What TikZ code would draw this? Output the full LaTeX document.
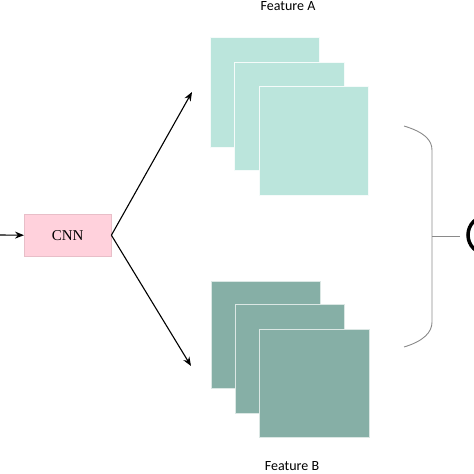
\documentclass[tikz,border=0pt]{standalone}
\usepackage{fontspec}
\setmainfont{Liberation Serif}
\newfontfamily\labfont{Carlito}
\usetikzlibrary{arrows.meta}
\definecolor{pinkbox}{HTML}{FFD1DC}
\definecolor{featA}{HTML}{BBE5DC}
\definecolor{featB}{HTML}{86AFA6}
\definecolor{brk}{HTML}{8A8A8A}
\begin{document}
\begin{tikzpicture}[x=1pt,y=-1pt,
  arr/.style={draw=black,line width=1.1pt,-{Stealth[length=9pt,width=7pt]}},
  sqA/.style={fill=featA,draw=white!85!featA,line width=0.6pt},
  sqB/.style={fill=featB,draw=white!70!featB,line width=0.6pt},
  lab/.style={font=\labfont\fontsize{14}{16}\selectfont,inner sep=0pt}]
\useasboundingbox (0,0) rectangle (474,474);
\begin{scope}
\clip (0,0) rectangle (474,474);
% CNN box
\node[fill=pinkbox,draw=pinkbox!85!black!60!pinkbox,line width=0.4pt,minimum width=87pt,minimum height=42pt,inner sep=0pt,anchor=north west,font=\fontsize{15}{17}\selectfont] (cnn) at (24,214) {CNN};
\coordinate (in) at (0,235);
\draw[arr] (in) -- (cnn.west);
% Feature A squares
\path[sqA] (210,37) rectangle (319,147);
\path[sqA] (234,62) rectangle (344,170);
\path[sqA] (259,86) rectangle (368,195);
\coordinate (ta) at (192,92);
\draw[arr] (cnn.east) -- (ta);
% Feature B squares
\path[sqB] (211,281) rectangle (320,388);
\path[sqB] (235,304) rectangle (344,413);
\path[sqB] (259,329) rectangle (369,437);
\coordinate (tb) at (191,366);
\draw[arr] (cnn.east) -- (tb);
% labels
\node[lab,anchor=north] (la) at (288,1) {Feature A};
\node[lab] (lb) at (292,466) {Feature B};
% bracket
\draw[brk,line width=0.9pt] (404,126) .. controls (424,132) and (432,140) .. (432,150) -- (432,322) .. controls (432,332) and (424,341) .. (404,347);
\coordinate (bm) at (432,236);
\coordinate (be) at (460,236);
\draw[brk,line width=0.9pt] (bm) -- (be);
% operator circle (cut off)
\draw[black,line width=3.5pt] (487,235) circle (19);
\end{scope}
\end{tikzpicture}
\end{document}
